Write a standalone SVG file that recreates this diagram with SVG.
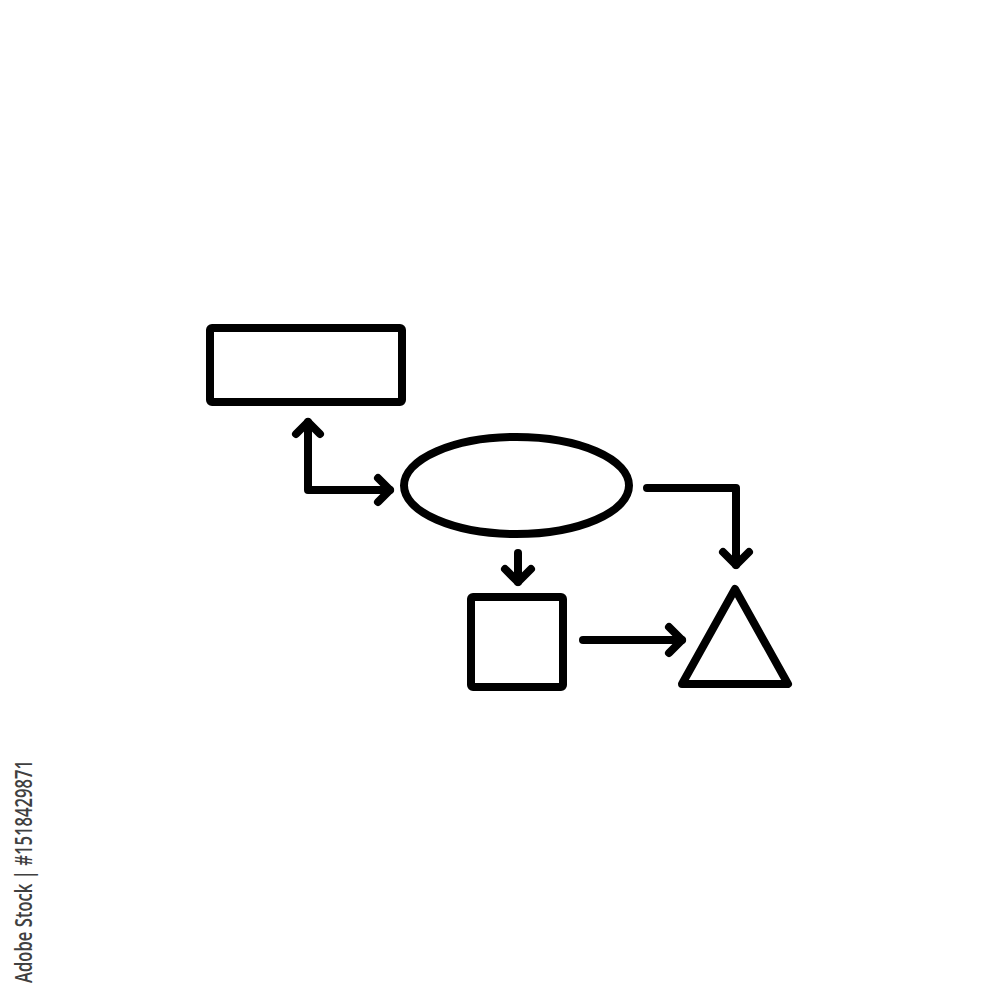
<svg xmlns="http://www.w3.org/2000/svg" width="1000" height="1000" viewBox="0 0 1000 1000">
<style>
.s{fill:none;stroke:#000;stroke-width:8;stroke-linecap:round;stroke-linejoin:round}
.c{fill:none;stroke:#000;stroke-width:8;stroke-linecap:round;stroke-linejoin:round}
.wm{font-family:"Open Sans","DejaVu Sans",sans-serif;font-size:23px;font-weight:600;fill:#404040}
</style>
<rect width="1000" height="1000" fill="#fff"/>
<g id="node-rect"><rect class="s" x="210" y="328" width="192" height="74" rx="2"/></g>
<g id="node-ellipse"><ellipse class="s" cx="516.5" cy="485.5" rx="112.5" ry="48.5"/></g>
<g id="node-square"><rect class="s" x="471" y="597" width="92" height="90" rx="2"/></g>
<g id="node-triangle"><polygon class="s" points="735,589 788,684 682,684"/></g>
<g id="connectors">
<path class="c" d="M308,422 V490 H390"/>
<path class="c" d="M296,434 L308,422 L320,434"/>
<path class="c" d="M378,478 L390,490 L378,502"/>
<path class="c" d="M647,488 H736 V565"/>
<path class="c" d="M723,552 L736,565 L749,552"/>
<path class="c" d="M518,553 V582"/>
<path class="c" d="M505,569 L518,582 L531,569"/>
<path class="c" d="M583,640 H682"/>
<path class="c" d="M669,627 L682,640 L669,653"/>
</g>
<text class="wm" transform="translate(32,983) rotate(-90)" textLength="223" lengthAdjust="spacingAndGlyphs">Adobe Stock | #1518429871</text>
</svg>
